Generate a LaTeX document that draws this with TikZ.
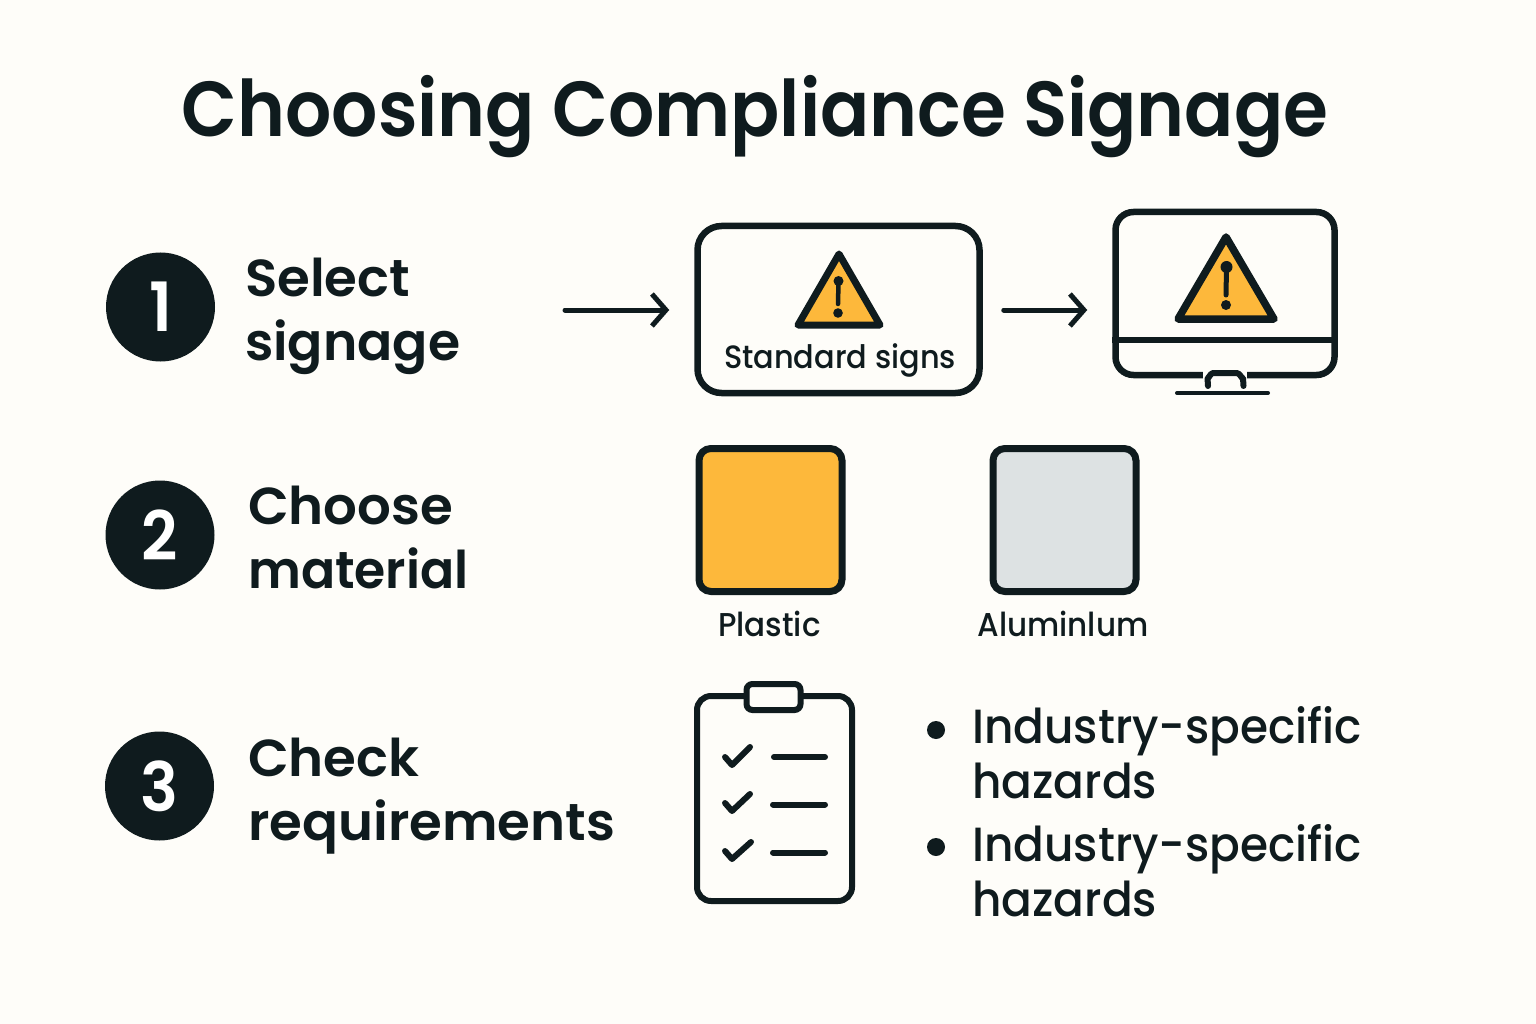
\documentclass[tikz,border=0pt]{standalone}
\usepackage{fontspec}
\setmainfont{Poppins}
\newfontfamily\titlefont{Poppins SemiBold}[FakeStretch=0.931]
\newfontfamily\headfont{Poppins SemiBold}[FakeStretch=0.97]
\newfontfamily\headwide{Poppins SemiBold}[FakeStretch=1.02]
\newfontfamily\headmid{Poppins SemiBold}[FakeStretch=1.0]
\newfontfamily\medfont{Poppins Medium}[FakeStretch=0.94]
\newfontfamily\listfont{Poppins Medium}[FakeStretch=0.946]
\usetikzlibrary{arrows.meta}
\definecolor{ink}{HTML}{0F1B1E}
\definecolor{paper}{HTML}{FEFDF9}
\definecolor{amber}{HTML}{FDB83B}
\definecolor{alu}{HTML}{DDE2E3}
\tikzset{
  x=1pt,y=-1pt,
  badge/.style={circle,fill=ink,text=white,minimum size=109pt,inner sep=0pt,font=\titlefont\fontsize{68}{68}\selectfont},
  steplabel/.style={anchor=west,align=left,inner sep=0pt,text=ink,font=\fontsize{52}{64}\selectfont},
  tile/.style={draw=ink,line width=7pt,rounded corners=12pt,minimum size=143pt,inner sep=0pt},
  caption/.style={text=ink,inner sep=0pt,font=\medfont\fontsize{33}{33}\selectfont},
  bullettext/.style={anchor=west,align=left,inner sep=0pt,text=ink,font=\listfont\fontsize{48}{55}\selectfont},
  ic/.style={draw=ink,line width=6pt,line cap=round,line join=round},
  arrowline/.style={draw=ink,line width=5pt,line cap=round,-{Straight Barb[length=14pt,width=32pt,line width=5pt]}},
}
\begin{document}
\begin{tikzpicture}
\useasboundingbox (0,0) rectangle (1536,1024);
\fill[paper] (0,0) rectangle (1536,1024);
\node[inner sep=0pt,text=ink,font=\titlefont\fontsize{78}{78}\selectfont] (title) at (755,117) {Choosing Compliance Signage};
\node[badge] (b1) at (160.5,307) {1};
\node[badge] (b2) at (160,535) {2};
\node[badge] (b3) at (159.5,786) {3};
\node[steplabel] (l1) at (245,316) {{\headwide Select}\\{\headmid signage}};
\node[steplabel] (l2) at (248,537) {{\headwide Choose}\\{\headfont material}};
\node[steplabel] (l3) at (248,796) {{\headwide Check}\\{\headwide requirements}};
% row 1
\node[draw=ink,line width=6.5pt,rounded corners=24pt,minimum width=282pt,minimum height=167pt,inner sep=0pt] (box) at (838.5,309.5) {};
\node[caption,font=\medfont\fontsize{32.3}{33}\selectfont] (std) at (840,360) {Standard signs};
\coordinate (astart) at (565,310);
\draw[arrowline,shorten >=25pt] (astart) -- (box.west |- astart);
\node[draw=ink,line width=6.5pt,rounded corners=18pt,minimum width=219pt,minimum height=163pt,inner sep=0pt] (monitor) at (1225,293.5) {};
\draw[arrowline,shorten <=21pt,shorten >=25pt] (box.east |- 0,310) -- (monitor.west |- 0,310);
\coordinate (ml) at (monitor.west |- 0,340);
\coordinate (mr) at (monitor.east |- 0,340);
\draw[draw=ink,line width=6.5pt] (ml) -- (mr);
\fill[paper] (1203,370) rectangle (1247,381);
\draw[ic] (1208,386) -- (1207.5,378) to[out=-90,in=180] (1213,373) -- (1237,373) to[out=0,in=-90] (1243,378) -- (1243.5,386);
\draw[ic,line width=4pt] (1177,393) -- (1268,393);
% warning triangles
\draw[ic,fill=amber,line width=7pt] (839,254) -- (880,325) -- (798,325) -- cycle;
\draw[ic,line width=4.5pt] (838.5,282) -- (838,304);
\fill[ink] (838.5,281) circle (5pt) (838,313) circle (4.8pt);
\draw[ic,fill=amber,line width=7.5pt] (1226,237) -- (1274,319) -- (1178,319) -- cycle;
\draw[ic,line width=5pt] (1226.5,268) -- (1226,295);
\fill[ink] (1226.5,267) circle (6pt) (1226,305) circle (5pt);
% row 2
\node[tile,fill=amber] (plastic) at (770.5,520) {};
\node[tile,fill=alu] (aluminium) at (1064.5,520) {};
\node[caption] (cp) at (769.5,624) {Plastic};
\node[caption] (ca) at (1063,624) {Aluminlum};
% row 3
\node[draw=ink,line width=6pt,rounded corners=14pt,minimum width=155pt,minimum height=205pt,inner sep=0pt] (clip) at (774.5,798.5) {};
\node[draw=ink,fill=paper,line width=6pt,rounded corners=6pt,minimum width=54pt,minimum height=26pt,inner sep=0pt] (tab) at (773.5,697) {};
\draw[ic] (725,757) -- (732,765) -- (750,747);
\draw[ic] (725,803) -- (732,811) -- (750,794);
\draw[ic] (725,851) -- (732,859) -- (751,842);
\draw[ic] (774,757) -- (825,757);
\draw[ic] (773,804.5) -- (825,804.5);
\draw[ic] (773,852.5) -- (825,852.5);
\node[circle,fill=ink,minimum size=18pt,inner sep=0pt] (d1) at (936,730) {};
\node[circle,fill=ink,minimum size=18pt,inner sep=0pt] (d2) at (936,847) {};
\node[bullettext] (t1) at (972,753) {Industry-specific\\hazards};
\node[bullettext] (t2) at (972,871) {Industry-specific\\hazards};
\end{tikzpicture}
\end{document}
